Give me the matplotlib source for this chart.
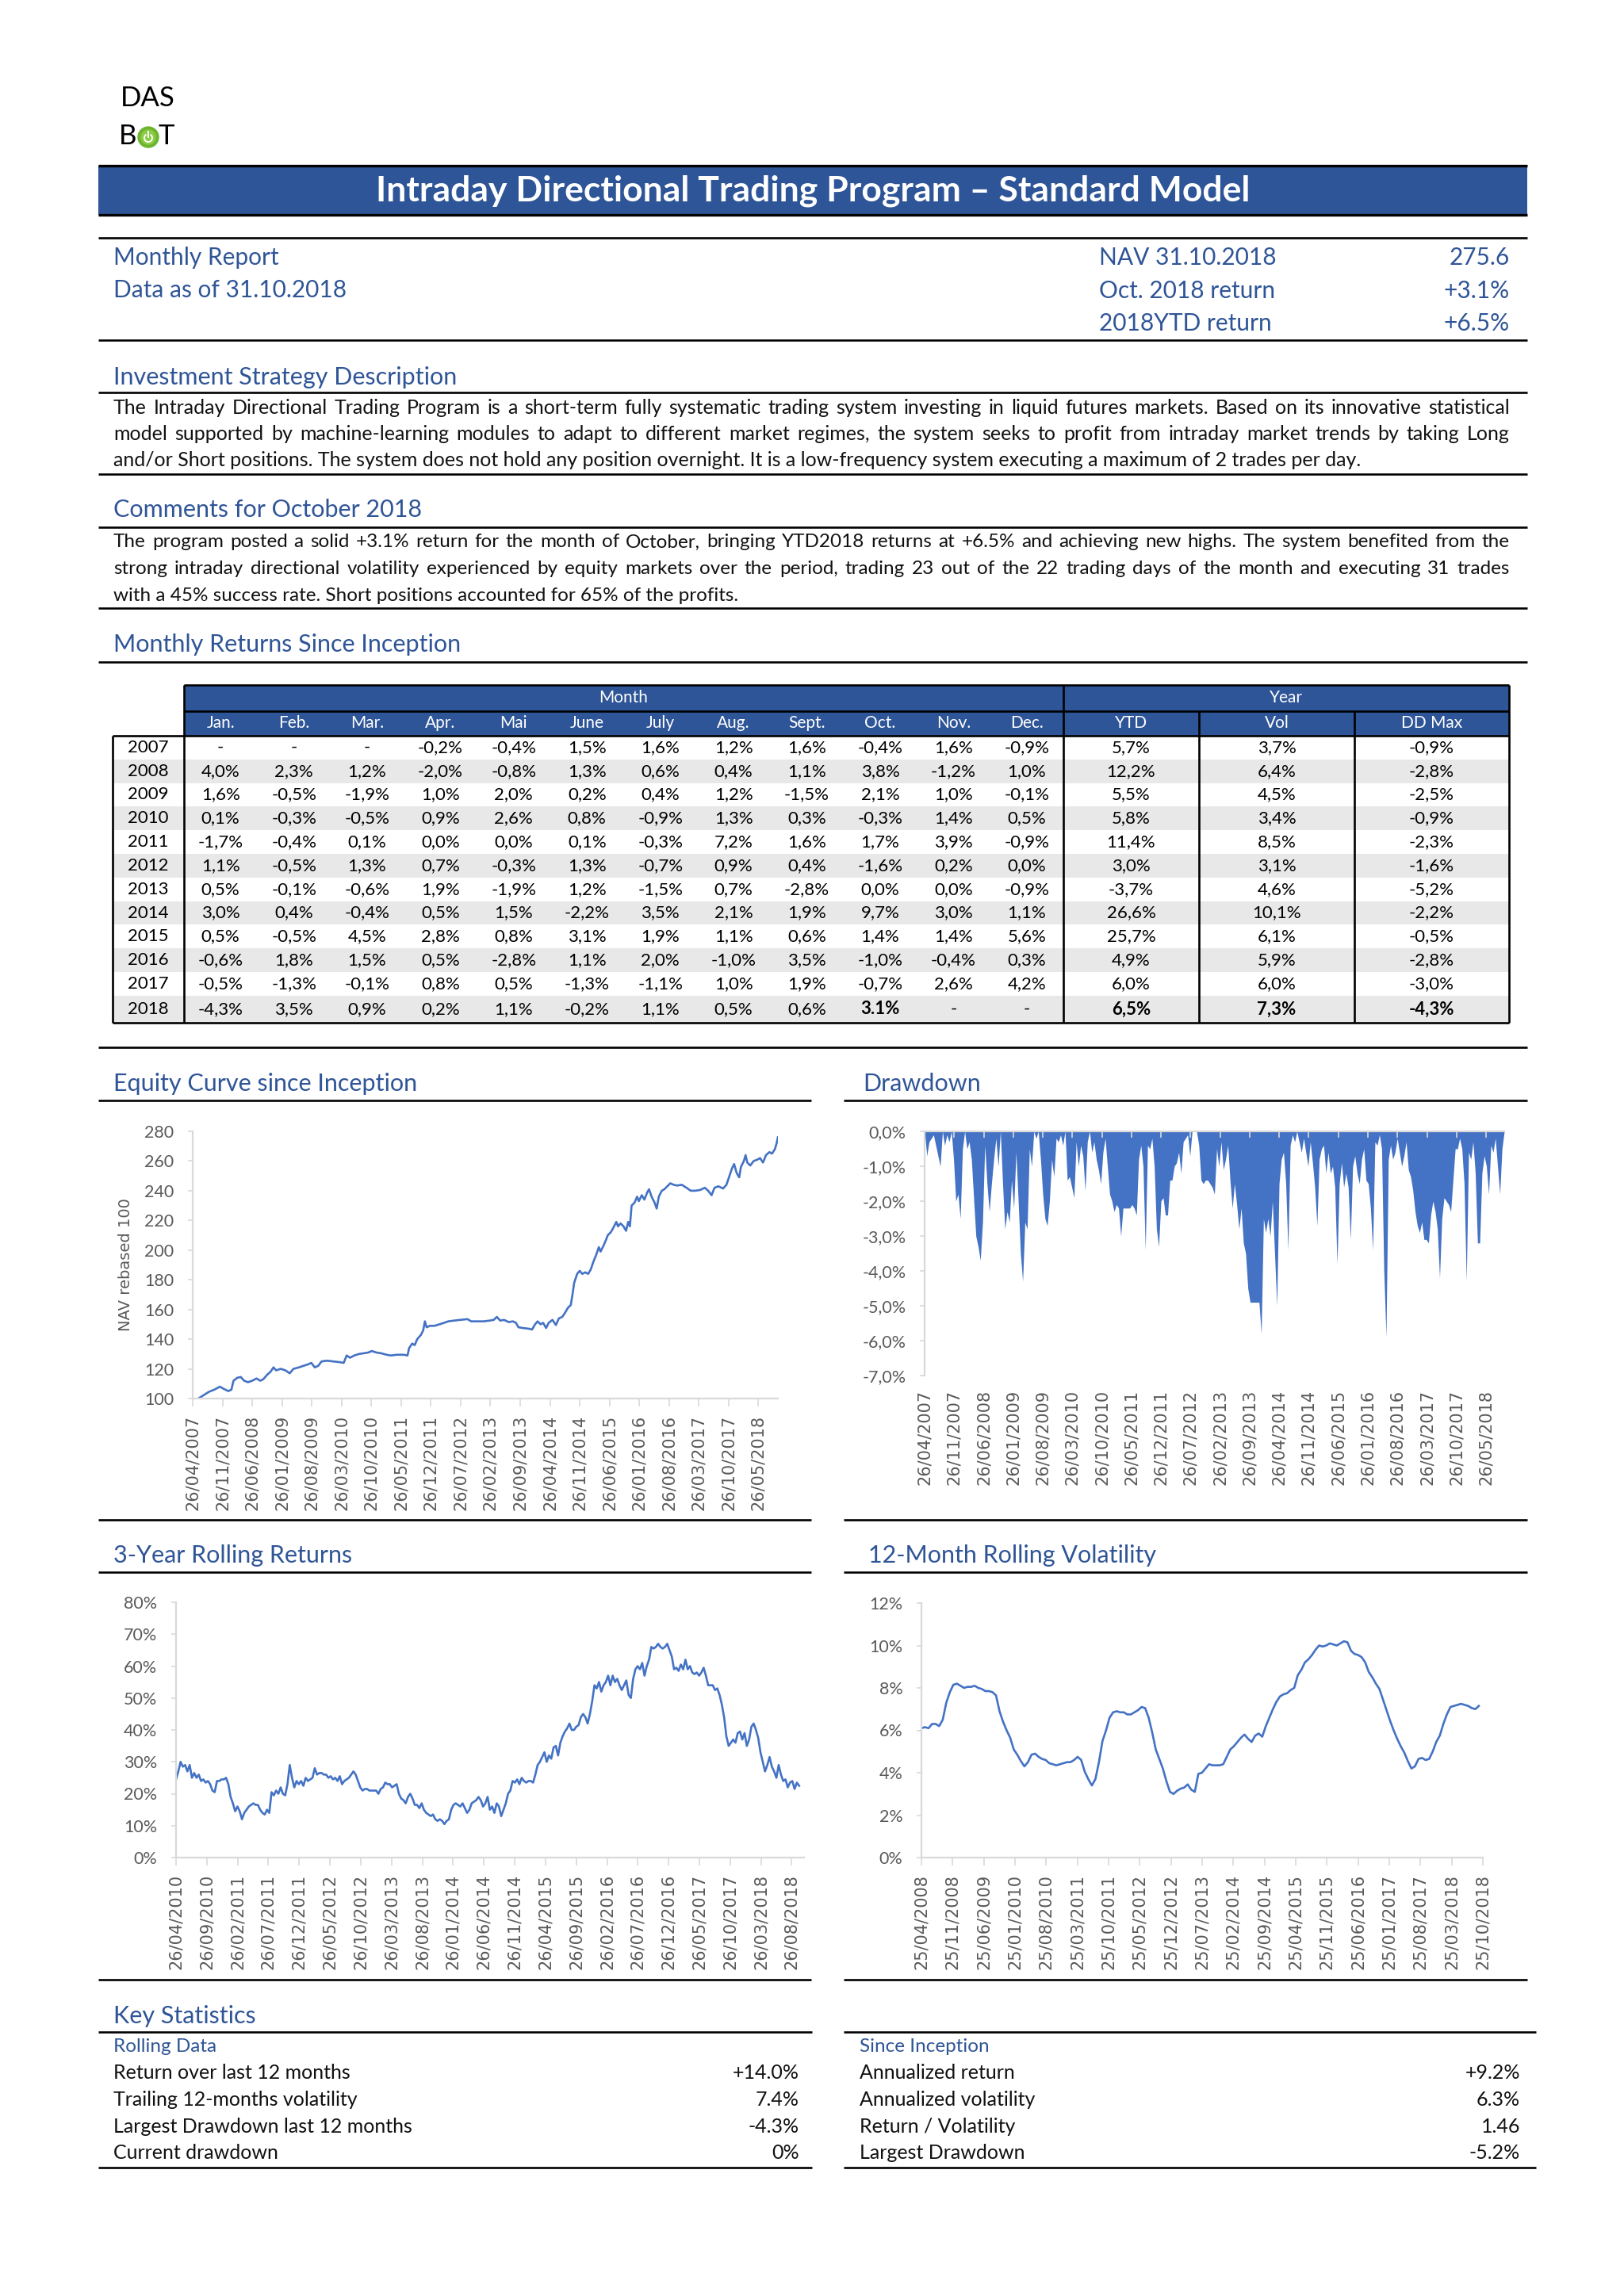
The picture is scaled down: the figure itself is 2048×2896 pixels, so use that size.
import numpy as np
import matplotlib
matplotlib.use('Agg')
import matplotlib.pyplot as plt
from matplotlib.patches import Rectangle, Circle, Arc

plt.rcParams['font.family'] = ['Lato', 'DejaVu Sans']

W, H = 2048, 2896
BLUE = '#2F5597'
LINE_BLUE = '#4472C4'
GRAY_TXT = '#595959'
AXIS_GRAY = '#D9D9D9'
SHADE = '#E8E8E8'

# ---------------- data ----------------
header_left = ['Monthly Report', 'Data as of 31.10.2018']
header_labels = ['NAV 31.10.2018', 'Oct. 2018 return', '2018YTD return']
header_values = ['275.6', '+3.1%', '+6.5%']

strategy_lines = [
    "The Intraday Directional Trading Program is a short-term fully systematic trading system investing in liquid futures markets. Based on its innovative statistical",
    "model supported by machine-learning modules to adapt to different market regimes, the system seeks to profit from intraday market trends by taking Long",
    "and/or Short positions. The system does not hold any position overnight. It is a low-frequency system executing a maximum of 2 trades per day.",
]
comment_lines = [
    "The program posted a solid +3.1% return for the month of October, bringing YTD2018 returns at +6.5% and achieving new highs. The system benefited from the",
    "strong intraday directional volatility experienced by equity markets over the period, trading 23 out of the 22 trading days of the month and executing 31 trades",
    "with a 45% success rate. Short positions accounted for 65% of the profits.",
]

years = ['2007', '2008', '2009', '2010', '2011', '2012', '2013', '2014', '2015', '2016', '2017', '2018']
month_names = ['Jan.', 'Feb.', 'Mar.', 'Apr.', 'Mai', 'June', 'July', 'Aug.', 'Sept.', 'Oct.', 'Nov.', 'Dec.']
monthly_returns = [
    ['-', '-', '-', '-0,2%', '-0,4%', '1,5%', '1,6%', '1,2%', '1,6%', '-0,4%', '1,6%', '-0,9%'],
    ['4,0%', '2,3%', '1,2%', '-2,0%', '-0,8%', '1,3%', '0,6%', '0,4%', '1,1%', '3,8%', '-1,2%', '1,0%'],
    ['1,6%', '-0,5%', '-1,9%', '1,0%', '2,0%', '0,2%', '0,4%', '1,2%', '-1,5%', '2,1%', '1,0%', '-0,1%'],
    ['0,1%', '-0,3%', '-0,5%', '0,9%', '2,6%', '0,8%', '-0,9%', '1,3%', '0,3%', '-0,3%', '1,4%', '0,5%'],
    ['-1,7%', '-0,4%', '0,1%', '0,0%', '0,0%', '0,1%', '-0,3%', '7,2%', '1,6%', '1,7%', '3,9%', '-0,9%'],
    ['1,1%', '-0,5%', '1,3%', '0,7%', '-0,3%', '1,3%', '-0,7%', '0,9%', '0,4%', '-1,6%', '0,2%', '0,0%'],
    ['0,5%', '-0,1%', '-0,6%', '1,9%', '-1,9%', '1,2%', '-1,5%', '0,7%', '-2,8%', '0,0%', '0,0%', '-0,9%'],
    ['3,0%', '0,4%', '-0,4%', '0,5%', '1,5%', '-2,2%', '3,5%', '2,1%', '1,9%', '9,7%', '3,0%', '1,1%'],
    ['0,5%', '-0,5%', '4,5%', '2,8%', '0,8%', '3,1%', '1,9%', '1,1%', '0,6%', '1,4%', '1,4%', '5,6%'],
    ['-0,6%', '1,8%', '1,5%', '0,5%', '-2,8%', '1,1%', '2,0%', '-1,0%', '3,5%', '-1,0%', '-0,4%', '0,3%'],
    ['-0,5%', '-1,3%', '-0,1%', '0,8%', '0,5%', '-1,3%', '-1,1%', '1,0%', '1,9%', '-0,7%', '2,6%', '4,2%'],
    ['-4,3%', '3,5%', '0,9%', '0,2%', '1,1%', '-0,2%', '1,1%', '0,5%', '0,6%', '3.1%', '-', '-'],
]
year_names = ['YTD', 'Vol', 'DD Max']
year_ytd = ['5,7%', '12,2%', '5,5%', '5,8%', '11,4%', '3,0%', '-3,7%', '26,6%', '25,7%', '4,9%', '6,0%', '6,5%']
year_vol = ['3,7%', '6,4%', '4,5%', '3,4%', '8,5%', '3,1%', '4,6%', '10,1%', '6,1%', '5,9%', '6,0%', '7,3%']
year_dd = ['-0,9%', '-2,8%', '-2,5%', '-0,9%', '-2,3%', '-1,6%', '-5,2%', '-2,2%', '-0,5%', '-2,8%', '-3,0%', '-4,3%']

# equity curve: months since 26/04/2007, NAV rebased 100
equity_month = [0, 0.9, 1.6, 2.7, 3.8, 5.1, 6.4, 7.3, 8.4, 9.1, 9.6, 10.5, 11.3, 12.1, 13.0, 14.0, 15.0,
                15.9, 16.6, 17.5, 18.3, 19.0, 19.6, 20.7, 21.8, 22.8, 23.7, 25.0, 26.0, 27.1, 27.9, 28.7,
                29.5, 30.3, 31.6, 33.0, 34.6, 35.5, 36.2, 37.0, 38.0, 39.1, 40.2, 41.3, 42.1, 43.2, 44.3,
                45.6, 46.6, 48.0, 49.6, 50.5, 50.9, 51.6, 52.2, 52.8, 53.7, 54.2, 54.6, 55.0, 55.8, 56.9,
                58.0, 59.1, 60.1, 61.4, 63.0, 64.6, 65.5, 66.8, 68.4, 69.8, 70.8, 71.5, 72.3, 73.2, 74.3,
                75.3, 76.0, 76.6, 77.7, 79.1, 79.8, 80.5, 81.1, 81.8, 82.4, 83.1, 83.7, 84.6, 85.4, 86.1,
                86.9, 87.6, 88.2, 88.9, 89.3, 89.7, 90.4, 91.0, 91.6, 92.3, 93.0, 93.6, 94.2, 94.9, 95.5,
                95.9, 96.6, 97.2, 97.6, 98.3, 98.9, 99.6, 100.0, 100.6, 101.3, 101.9, 102.4, 102.8, 103.2,
                103.9, 104.5, 104.9, 105.6, 106.2, 106.9, 107.3, 107.9, 108.6, 109.1, 109.6, 110.3, 110.9,
                111.6, 112.3, 113.1, 113.9, 115.0, 116.1, 117.1, 118.2, 119.3, 120.4, 121.2, 122.0, 122.7,
                123.6, 124.7, 125.5, 126.2, 126.8, 127.3, 127.9, 128.5, 128.9, 129.6, 130.0, 130.4, 131.1,
                131.9, 132.8, 133.4, 134.1, 134.8, 135.6, 136.2, 136.9, 137.3, 137.6]
equity_nav = [100, 99.3, 100.5, 102.5, 104.5, 106, 108, 106.5, 105, 106, 112, 114, 114.5, 112, 111, 112, 113.5,
              112, 113, 116, 118, 121, 119, 120, 119, 117, 120, 121, 122, 123, 124, 121,
              122, 125, 125.5, 125, 124.5, 124, 129, 127.5, 129, 130, 130.5, 131, 132, 131, 130.5,
              129.5, 129, 129.5, 129.5, 129, 134, 137, 136, 140, 143, 146, 152, 148, 149, 149,
              150, 151, 152, 152.5, 153, 153.5, 152, 152, 152, 152.5, 153, 155, 152.5, 153, 151.5,
              152, 151, 148, 147.5, 147, 146.5, 150, 152, 150, 151, 147.5, 151, 153, 149.5, 154,
              155, 158, 161, 163, 170, 178, 184, 186, 184, 185, 184, 187, 192, 197, 202,
              199, 203, 207, 210, 212, 215, 219, 216, 218, 216, 213, 219, 216, 230,
              232, 236, 233, 237, 234, 239, 241, 236, 232, 228, 236, 240, 241,
              243, 245, 244, 243.5, 244, 242, 240, 240, 240.5, 242, 240, 237, 242,
              243, 241.5, 244, 250, 255, 258, 252, 249, 256, 260, 264, 259, 257,
              260, 261, 262, 259, 264, 266, 265, 268, 272, 276]

# drawdown (%), roughly every two weeks from 26/04/2007
drawdown_pct = [0, -0.7, -0.3, -0.2, -0.1, -0.4, -0.7, -1.0, 0, -0.4, -0.1, -0.3, 0, -0.8, -2.0, -1.8,
                -2.5, -0.5, 0, -0.5, -0.3, -0.8, -1.9, -3.0, -3.3, -3.7, -2.6, -0.4, -1.5, -2.3, -1.5,
                -0.8, -0.2, -1.0, 0, -1.5, -2.8, -2.3, -2.6, -1.4, -2.2, -0.6, -2.0, -3.5, -4.3, -2.6,
                -2.8, -0.5, -1.0, 0, -0.2, 0, -0.8, -1.8, -2.5, -2.7, -2.0, -0.8, -1.3, -0.2, -0.3,
                -0.1, -0.4, 0, -1.4, -1.3, -1.6, -1.9, -0.3, -1.0, -0.4, -0.7, -1.7, -0.3, 0, -0.6,
                -0.3, -0.8, -1.1, -1.5, -0.6, -0.2, -1.0, -1.8, -2.0, -2.3, -2.1, -2.2, -3.0, -2.2,
                -2.2, -2.2, -2.2, -2.1, -2.2, -2.4, -0.8, -0.4, -1.0, -3.4, -0.4, -0.5, -0.2, -1.0,
                -2.8, -3.3, -2.0, -1.9, -2.4, -2.4, -1.4, -1.4, -1.0, -0.9, -0.6, -1.2, -0.3, -0.2,
                -0.1, -0.7, 0, 0, 0, -0.4, -1.4, -1.5, -1.4, -1.4, -1.5, -1.6, -1.8, -0.5, -1.0, -0.3,
                -1.1, -0.8, -0.4, -1.4, -2.2, -1.5, -2.1, -2.8, -2.2, -3.2, -3.5, -4.5, -4.9, -4.9,
                -4.9, -4.9, -4.9, -5.8, -2.5, -2.9, -2.5, -3.0, -2.0, -3.5, -5.0, -1.5, -0.8, -0.6,
                -1.5, -3.4, -0.4, -0.1, -0.3, 0, -0.3, -0.6, -0.2, -0.6, -1.0, -0.3, -0.9, -1.6, -2.7,
                -0.8, -0.5, -0.4, -1.2, -0.6, -1.2, -1.0, -1.6, -3.8, -1.5, -0.9, -1.6, -1.2, -1.6,
                -3.1, -1.0, -0.7, -1.2, -1.5, -0.8, -0.5, -1.4, -1.5, -2.2, -3.4, -0.3, -0.4, -0.1,
                -0.5, -4.0, -5.9, -0.8, -0.4, -0.8, -0.6, -0.2, -0.6, -1.0, -0.7, -0.3, -1.1, -1.3,
                -1.7, -2.3, -2.7, -2.9, -2.6, -3.1, -3.1, -3.2, -2.4, -2.0, -2.3, -2.8, -4.2, -2.5,
                -1.9, -2.0, -2.1, -2.3, -1.4, -0.5, -0.5, -0.2, -0.5, -1.5, -4.3, -0.6, -0.8, -0.3,
                -1.2, -3.2, -3.2, -1.2, -0.7, -1.0, -1.8, -0.4, -0.6, -0.2, -1.0, -1.8, -0.5, 0]
drawdown_end_month = 137.3

# 3-year rolling returns (%), from 26/04/2010
rolling_ret_pct = [24.5, 27, 30, 28.5, 29, 27, 29, 25, 26.5, 25, 26, 24, 24.5, 23.5, 24, 23, 21, 20.5, 24, 24,
                   24.5, 24.5, 25, 23, 19, 17, 14.5, 16, 14.5, 12, 14, 15, 16, 16.5, 17, 16.5, 16.5, 15, 14,
                   13.5, 15, 14, 20.5, 19.5, 21, 20, 22, 20, 19.5, 23, 29, 25, 22, 24, 23, 24, 22.5, 25, 24,
                   24.5, 25, 28, 26, 26.5, 26.5, 26, 26, 25, 25.5, 24.5, 25, 24, 25.5, 23, 24, 24.5, 25, 26,
                   27, 26, 24, 22, 21, 21.5, 21.5, 21, 21, 21, 21, 20, 21.5, 22, 23.5, 23, 23, 22, 22.5, 23,
                   20, 18.5, 18, 17, 19, 20, 18.5, 16.5, 16.5, 15.5, 17, 15, 14, 13.5, 13, 13.5, 12, 11.5,
                   12, 11.5, 10.5, 11.5, 12, 15, 16.5, 17, 16.5, 16, 17, 15.5, 14, 15, 17, 17.5, 18, 19, 18,
                   16, 17, 19, 15, 16, 14, 17, 16, 13, 15, 17, 20, 21, 24, 23.5, 24.5, 23, 25, 24, 23.5, 24,
                   24, 23.5, 26, 29, 30, 31.5, 33, 30, 32, 31, 34.5, 35, 32, 36, 38, 39.5, 40.5, 42, 40, 40,
                   41, 41.5, 44, 45, 44, 42, 45, 49, 54, 53, 55, 52, 54, 55, 57, 54, 57, 55, 56, 54, 52.5,
                   54, 55.5, 51, 50, 56, 59, 60, 59, 61, 57, 60, 62, 66, 65.5, 66, 67, 66, 65.5, 66, 67, 65,
                   63, 59, 59.5, 58.5, 60.5, 59, 62, 59, 60, 58, 57.5, 58, 57, 58, 59.5, 57, 54, 54, 54,
                   52.5, 53, 51, 48, 44, 38, 35, 36, 37, 36, 39, 39.5, 37, 39, 35, 37, 41, 42, 40, 37.5, 33,
                   30, 27, 29, 31.5, 28.5, 27, 25, 29, 26, 24, 24.5, 22, 23.5, 24, 21.5, 23.5, 22.5]
rolling_ret_end_month = 101.2

# 12-month rolling volatility (%), from 25/04/2008
rolling_vol_pct = [6.1, 6.15, 6.1, 6.3, 6.3, 6.2, 6.5, 7.3, 7.8, 8.15, 8.2, 8.1, 8.0, 8.05, 8.05, 8.1, 8.0,
                   7.95, 7.85, 7.85, 7.8, 7.65, 6.9, 6.4, 6.0, 5.65, 5.1, 4.85, 4.55, 4.3, 4.5, 4.85, 4.9,
                   4.75, 4.65, 4.6, 4.45, 4.4, 4.35, 4.4, 4.45, 4.5, 4.5, 4.6, 4.75, 4.6, 4.05, 3.7, 3.4,
                   3.7, 4.5, 5.5, 6.0, 6.6, 6.85, 6.9, 6.85, 6.85, 6.75, 6.75, 6.85, 6.95, 7.1, 7.05, 6.6,
                   5.9, 5.1, 4.65, 4.2, 3.6, 3.1, 3.0, 3.15, 3.25, 3.3, 3.45, 3.2, 3.1, 3.95, 4.0, 4.2, 4.4,
                   4.35, 4.35, 4.35, 4.4, 4.75, 5.1, 5.25, 5.45, 5.65, 5.8, 5.6, 5.45, 5.75, 5.85, 5.7, 6.2,
                   6.6, 7.0, 7.35, 7.6, 7.7, 7.75, 7.9, 8.0, 8.6, 8.85, 9.2, 9.35, 9.55, 9.8, 10.0, 9.95,
                   10.0, 10.1, 10.05, 10.0, 10.1, 10.2, 10.15, 9.75, 9.6, 9.55, 9.45, 9.2, 8.75, 8.5, 8.2,
                   7.95, 7.45, 6.95, 6.45, 6.0, 5.6, 5.25, 4.95, 4.55, 4.2, 4.3, 4.65, 4.7, 4.6, 4.65, 5.0,
                   5.45, 5.75, 6.3, 6.75, 7.1, 7.15, 7.2, 7.25, 7.2, 7.15, 7.05, 7.0, 7.15]
rolling_vol_end_month = 125.1

equity_ticks = ['26/04/2007', '26/11/2007', '26/06/2008', '26/01/2009', '26/08/2009', '26/03/2010',
                '26/10/2010', '26/05/2011', '26/12/2011', '26/07/2012', '26/02/2013', '26/09/2013',
                '26/04/2014', '26/11/2014', '26/06/2015', '26/01/2016', '26/08/2016', '26/03/2017',
                '26/10/2017', '26/05/2018']
rolling_ret_ticks = ['26/04/2010', '26/09/2010', '26/02/2011', '26/07/2011', '26/12/2011', '26/05/2012',
                     '26/10/2012', '26/03/2013', '26/08/2013', '26/01/2014', '26/06/2014', '26/11/2014',
                     '26/04/2015', '26/09/2015', '26/02/2016', '26/07/2016', '26/12/2016', '26/05/2017',
                     '26/10/2017', '26/03/2018', '26/08/2018']
rolling_vol_ticks = ['25/04/2008', '25/11/2008', '25/06/2009', '25/01/2010', '25/08/2010', '25/03/2011',
                     '25/10/2011', '25/05/2012', '25/12/2012', '25/07/2013', '25/02/2014', '25/09/2014',
                     '25/04/2015', '25/11/2015', '25/06/2016', '25/01/2017', '25/08/2017', '25/03/2018',
                     '25/10/2018']

stats_rolling_labels = ['Return over last 12 months', 'Trailing 12-months volatility',
                        'Largest Drawdown last 12 months', 'Current drawdown']
stats_rolling_values = ['+14.0%', '7.4%', '-4.3%', '0%']
stats_incep_labels = ['Annualized return', 'Annualized volatility', 'Return / Volatility', 'Largest Drawdown']
stats_incep_values = ['+9.2%', '6.3%', '1.46', '-5.2%']

# ---------------- page ----------------
fig = plt.figure(figsize=(W / 100, H / 100), dpi=100)
fig.patch.set_facecolor('white')
page = fig.add_axes([0, 0, 1, 1])
page.set_xlim(0, W)
page.set_ylim(H, 0)
page.axis('off')
renderer = fig.canvas.get_renderer()

TEXT = '#111111'


def hline(y, x0, x1, lw=1.9, color='black'):
    page.plot([x0, x1], [y, y], color=color, lw=lw, solid_capstyle='butt', zorder=3)


def vline(x, y0, y1, lw=1.9, color='black'):
    page.plot([x, x], [y0, y1], color=color, lw=lw, solid_capstyle='butt', zorder=3)


def text_width(s, size):
    t = page.text(0, 0, s, fontsize=size)
    w = t.get_window_extent(renderer).width
    t.remove()
    return w


def justify(lines, x0, x1, y0, dy, size):
    # shrink until every justified line fits at its natural spacing
    while max(text_width(l, size) for l in lines[:-1]) > (x1 - x0) * 0.985:
        size -= 0.25
    for i, line in enumerate(lines):
        y = y0 + i * dy
        if i == len(lines) - 1:
            page.text(x0, y, line, ha='left', va='center', fontsize=size, color=TEXT)
            continue
        words = line.split()
        objs = [page.text(0, y, w, ha='left', va='center', fontsize=size, color=TEXT) for w in words]
        widths = [o.get_window_extent(renderer).width for o in objs]
        gap = (x1 - x0 - sum(widths)) / (len(words) - 1)
        x = x0
        for o, w in zip(objs, widths):
            o.set_x(x)
            x += w + gap


# logo
page.text(152, 124, 'DAS', fontsize=25, ha='left', va='center', color='black')
page.text(150, 172, 'B', fontsize=25, ha='left', va='center', color='black')
page.text(200, 172, 'T', fontsize=25, ha='left', va='center', color='black')
page.add_patch(Circle((187, 173), 13, color='#6DB52F', zorder=3))
page.add_patch(Circle((187, 173), 9, color='#8CCB45', zorder=3))
page.add_patch(Arc((187, 174), 10, 10, theta1=300, theta2=240, color='white', lw=1.4, zorder=4))
page.plot([187, 187], [166, 173], color='white', lw=1.4, zorder=4)

# title bar
page.add_patch(Rectangle((124, 209), 1802, 62, facecolor='#2E5597', edgecolor='none'))
hline(209, 124, 1926, lw=2.4)
hline(271, 124, 1926, lw=2.4)
page.text(1025, 241, 'Intraday Directional Trading Program \u2013 Standard Model', fontsize=32,
          fontweight='bold', color='white', ha='center', va='center')

# header block
hline(300, 124, 1926)
for i, t in enumerate(header_left):
    page.text(143, 325 + 41 * i, t, fontsize=21.5, color=BLUE, ha='left', va='center')
for i, (lab, val) in enumerate(zip(header_labels, header_values)):
    page.text(1386, 325 + 41.5 * i, lab, fontsize=21.5, color=BLUE, ha='left', va='center')
    page.text(1904, 325 + 41.5 * i, val, fontsize=21.5, color=BLUE, ha='right', va='center')
hline(429, 124, 1926)

# strategy & comments
page.text(143, 476, 'Investment Strategy Description', fontsize=22, color=BLUE, ha='left', va='center')
hline(495, 124, 1926)
justify(strategy_lines, 143, 1904, 514, 33.5, 20)
hline(598, 124, 1926)

page.text(143, 643, 'Comments for October 2018', fontsize=22, color=BLUE, ha='left', va='center')
hline(665, 124, 1926)
justify(comment_lines, 143, 1904, 684, 33.5, 20)
hline(767, 124, 1926)

page.text(143, 813, 'Monthly Returns Since Inception', fontsize=22, color=BLUE, ha='left', va='center')
hline(835, 124, 1926)

# monthly returns table
tab_l, tab_y, tab_m, tab_r = 142, 232, 1341, 1903
year_edges = [1341, 1512, 1708, 1903]
head_t, head_m, head_b = 864, 897, 928
row_edges = [head_b + 29.8 * i for i in range(len(years))] + [1290]
mcol = (tab_m - tab_y) / 12

page.add_patch(Rectangle((tab_y, head_t), tab_r - tab_y, head_b - head_t, facecolor='#2E5597', edgecolor='none'))
for i in range(len(years)):
    if i % 2 == 1:
        page.add_patch(Rectangle((tab_l, row_edges[i]), tab_r - tab_l, row_edges[i + 1] - row_edges[i],
                                 facecolor=SHADE, edgecolor='none'))
page.text((tab_y + tab_m) / 2, (head_t + head_m) / 2, 'Month', fontsize=15, color='white', ha='center', va='center')
page.text((tab_m + tab_r) / 2, (head_t + head_m) / 2, 'Year', fontsize=15, color='white', ha='center', va='center')
for j, m in enumerate(month_names):
    page.text(tab_y + mcol * (j + 0.5), (head_m + head_b) / 2, m, fontsize=15, color='white', ha='center', va='center')
for j, m in enumerate(year_names):
    page.text((year_edges[j] + year_edges[j + 1]) / 2, (head_m + head_b) / 2, m, fontsize=15,
              color='white', ha='center', va='center')

for i, yr in enumerate(years):
    yc = (row_edges[i] + row_edges[i + 1]) / 2
    last = i == len(years) - 1
    page.text((tab_l + tab_y) / 2, yc, yr, fontsize=16, color='black', ha='center', va='center')
    for j, v in enumerate(monthly_returns[i]):
        bold = last and j == 9
        page.text(tab_y + mcol * (j + 0.5), yc, v, fontsize=16, color='black', ha='center', va='center',
                  fontweight='bold' if bold else 'normal')
    for j, col in enumerate([year_ytd, year_vol, year_dd]):
        page.text((year_edges[j] + year_edges[j + 1]) / 2, yc, col[i], fontsize=16, color='black',
                  ha='center', va='center', fontweight='bold' if last else 'normal')

# table borders
hline(head_t, tab_y, tab_r, lw=1.9)
hline(head_m, tab_y, tab_r, lw=1.9)
hline(head_b, tab_l, tab_r, lw=1.9)
hline(1290, tab_l, tab_r, lw=1.9)
vline(tab_l, head_b, 1290)
vline(tab_y, head_t, 1290)
vline(tab_m, head_t, 1290)
vline(year_edges[1], head_m, 1290)
vline(year_edges[2], head_m, 1290)
vline(tab_r, head_t, 1290)

hline(1321, 124, 1926)

# chart section headings
page.text(143, 1367, 'Equity Curve since Inception', fontsize=22, color=BLUE, ha='left', va='center')
page.text(1088, 1367, 'Drawdown', fontsize=22, color=BLUE, ha='left', va='center')
hline(1388, 124, 1023)
hline(1388, 1064, 1926)
hline(1917, 124, 1023)
hline(1917, 1064, 1926)
page.text(143, 1962, '3-Year Rolling Returns', fontsize=22, color=BLUE, ha='left', va='center')
page.text(1095, 1962, '12-Month Rolling Volatility', fontsize=22, color=BLUE, ha='left', va='center')
hline(1983, 124, 1023)
hline(1983, 1064, 1926)
hline(2497, 124, 1023)
hline(2497, 1064, 1926)


def chart_axes(l, t, r, b):
    ax = fig.add_axes([l / W, 1 - b / H, (r - l) / W, (b - t) / H])
    ax.set_facecolor('none')
    for s in ['top', 'right']:
        ax.spines[s].set_visible(False)
    for s in ['left', 'bottom', 'top']:
        ax.spines[s].set_color(AXIS_GRAY)
        ax.spines[s].set_linewidth(1.6)
    ax.tick_params(axis='y', length=4, width=1.2, color=AXIS_GRAY, labelcolor=GRAY_TXT,
                   labelsize=15.5, pad=13)
    ax.tick_params(axis='x', length=7, width=1.2, color=AXIS_GRAY, labelcolor=GRAY_TXT, pad=8)
    return ax


def set_date_ticks(ax, labels, step):
    ax.set_xticks(np.arange(len(labels)) * step)
    ax.set_xticklabels(labels, rotation=90, fontfamily='DejaVu Sans', fontsize=15, color=GRAY_TXT)


# equity curve
ax1 = chart_axes(243, 1427, 981, 1764)
ax1.plot(equity_month, equity_nav, color=LINE_BLUE, lw=1.9)
ax1.set_xlim(0, 137.6)
ax1.set_ylim(100, 280)
ax1.set_yticks(np.arange(100, 281, 20))
set_date_ticks(ax1, equity_ticks, 7)
page.text(159, 1595, 'NAV rebased 100', rotation=90, fontfamily='DejaVu Sans', fontsize=14,
          color=GRAY_TXT, ha='center', va='center')

# drawdown
ax2 = chart_axes(1166, 1427, 1897, 1735)
dd_x = np.linspace(0, drawdown_end_month, len(drawdown_pct))
ax2.fill_between(dd_x, drawdown_pct, 0, color=LINE_BLUE, lw=0)
ax2.set_xlim(0, drawdown_end_month)
ax2.set_ylim(-7, 0)
ax2.spines['bottom'].set_visible(False)
ax2.spines['top'].set_visible(True)
ax2.set_yticks(np.arange(-7, 1, 1))
ax2.set_yticklabels([f'{v:.1f}%'.replace('.', ',') for v in np.arange(-7, 1, 1)])
set_date_ticks(ax2, equity_ticks, 7)
ax2.tick_params(axis='x', bottom=False, top=True, labelbottom=True, labeltop=False,
                direction='in', length=6, pad=13)

# 3-year rolling returns
ax3 = chart_axes(222, 2021, 1014, 2343)
rr_x = np.linspace(0, rolling_ret_end_month, len(rolling_ret_pct))
ax3.plot(rr_x, rolling_ret_pct, color=LINE_BLUE, lw=1.9)
ax3.set_xlim(0, 102)
ax3.set_ylim(0, 80)
ax3.set_yticks(np.arange(0, 81, 10))
ax3.set_yticklabels([f'{v}%' for v in range(0, 81, 10)])
set_date_ticks(ax3, rolling_ret_ticks, 5)

# 12-month rolling volatility
ax4 = chart_axes(1162, 2022, 1870, 2343)
rv_x = np.linspace(0, rolling_vol_end_month, len(rolling_vol_pct))
ax4.plot(rv_x, rolling_vol_pct, color=LINE_BLUE, lw=1.9)
ax4.set_xlim(0, 126)
ax4.set_ylim(0, 12)
ax4.set_yticks(np.arange(0, 13, 2))
ax4.set_yticklabels([f'{v}%' for v in range(0, 13, 2)])
set_date_ticks(ax4, rolling_vol_ticks, 7)

# key statistics
page.text(143, 2543, 'Key Statistics', fontsize=22, color=BLUE, ha='left', va='center')
hline(2563, 124, 1024)
hline(2563, 1064, 1937)
page.text(143, 2582, 'Rolling Data', fontsize=17.5, color=BLUE, ha='left', va='center')
page.text(1084, 2582, 'Since Inception', fontsize=17.5, color=BLUE, ha='left', va='center')
for i in range(4):
    y = 2615 + 33.5 * i
    page.text(143, y, stats_rolling_labels[i], fontsize=18, color=TEXT, ha='left', va='center')
    page.text(1008, y, stats_rolling_values[i], fontsize=18, color=TEXT, ha='right', va='center')
    page.text(1084, y, stats_incep_labels[i], fontsize=18, color=TEXT, ha='left', va='center')
    page.text(1917, y, stats_incep_values[i], fontsize=18, color=TEXT, ha='right', va='center')
hline(2734, 124, 1024)
hline(2734, 1064, 1937)

fig.savefig('out.png', dpi=100)
